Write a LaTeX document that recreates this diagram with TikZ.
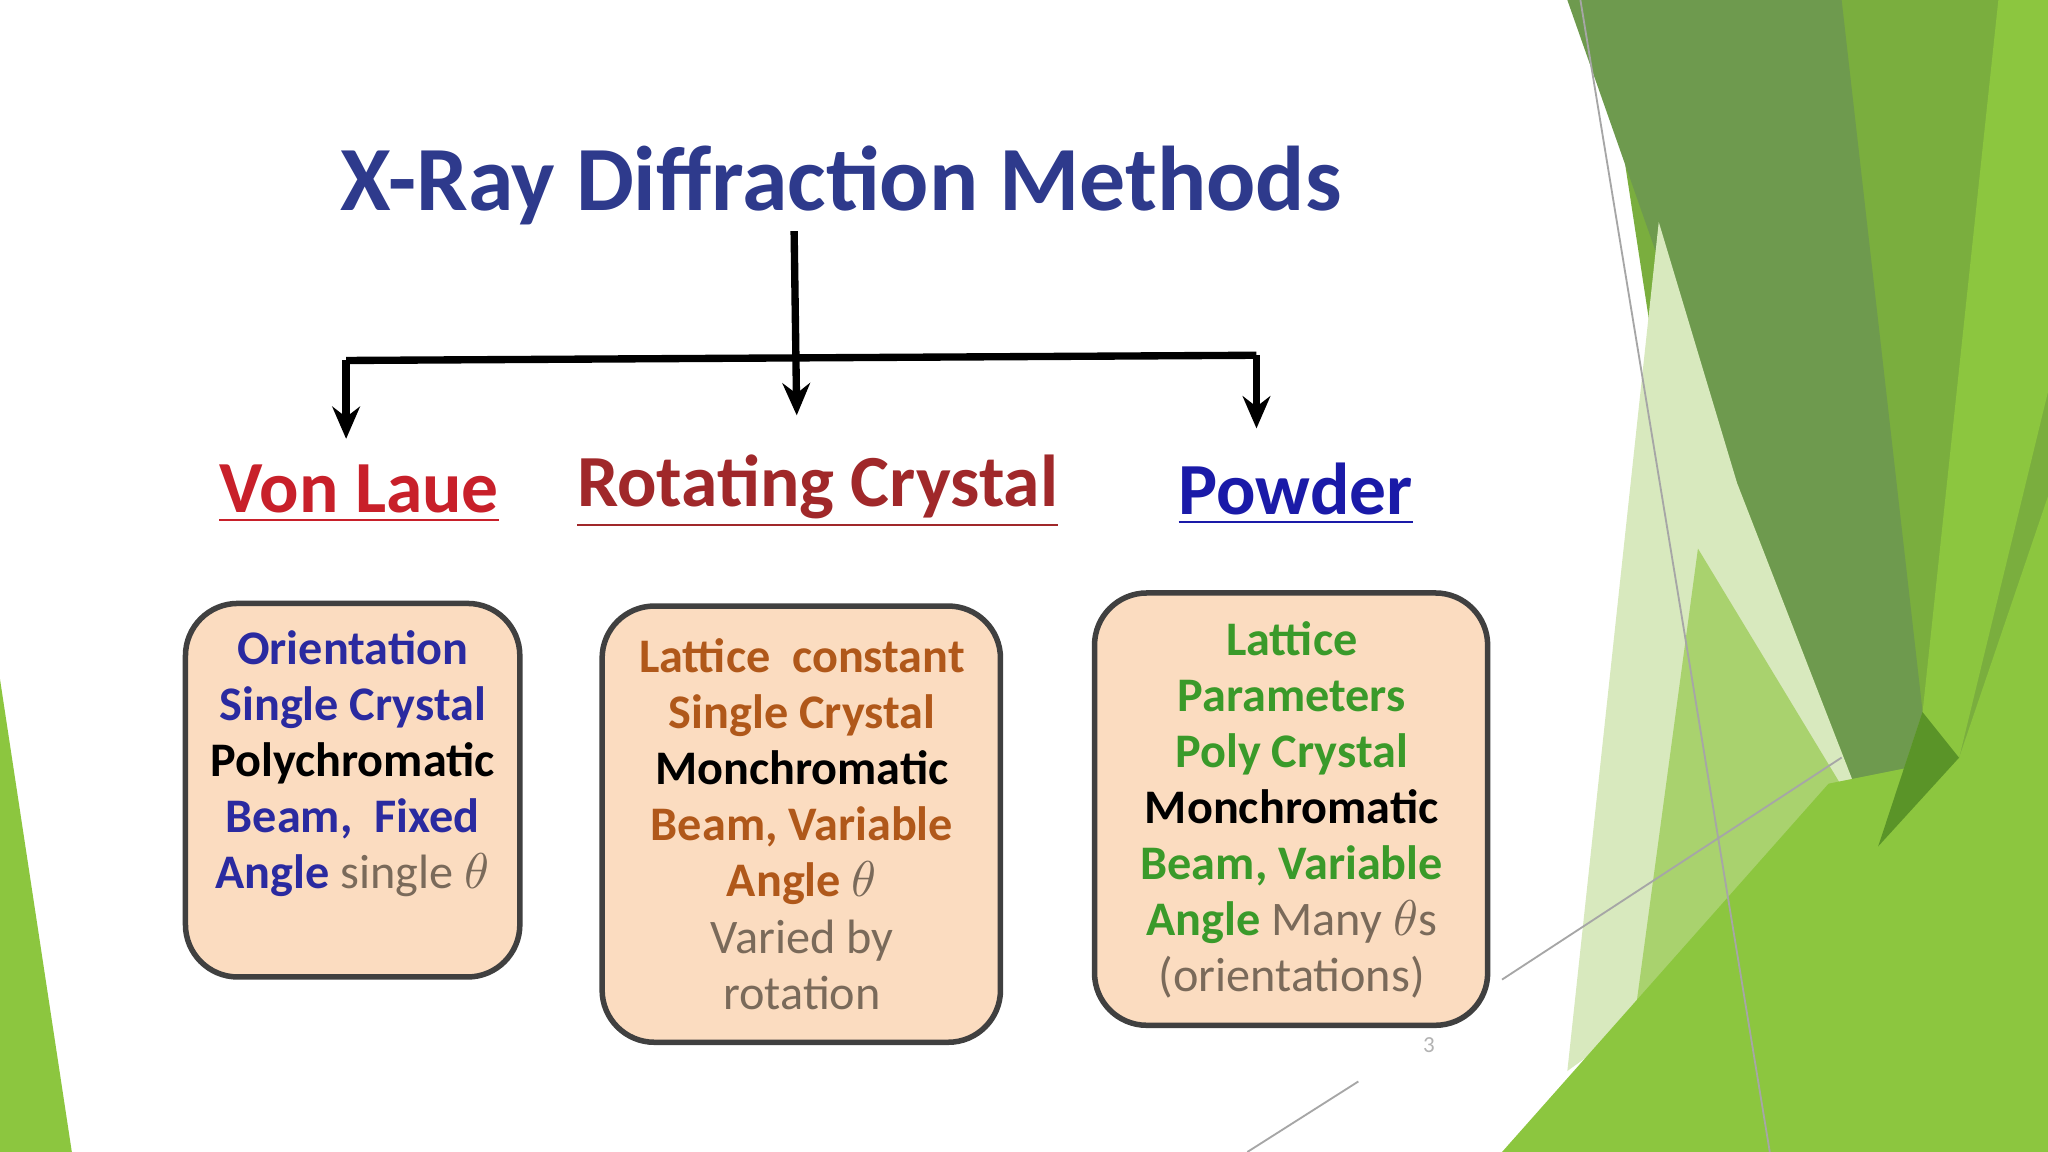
\documentclass[tikz,border=0pt]{standalone}
\usepackage{fontspec}
\setmainfont{Carlito}
\usetikzlibrary{arrows.meta}
\definecolor{navy}{HTML}{2E3A8C}
\definecolor{vred}{HTML}{C8202A}
\definecolor{rred}{HTML}{A0282A}
\definecolor{pblue}{HTML}{1A1AA8}
\definecolor{tblue}{HTML}{2A2AA0}
\definecolor{tbrown}{HTML}{B0581A}
\definecolor{tgray}{HTML}{7A6A5A}
\definecolor{tgreen}{HTML}{3A9A2A}
\definecolor{peach}{HTML}{FBDCC0}
\definecolor{gA}{HTML}{7AAE3E}
\definecolor{gB}{HTML}{6E9A4E}
\definecolor{gC}{HTML}{8CC63F}
\definecolor{gD}{HTML}{D8E9BE}
\definecolor{gE}{HTML}{A9D26E}
\definecolor{gF}{HTML}{5A9428}
\begin{document}
\begin{tikzpicture}[x=0.01cm,y=-0.01cm,
  box/.style={draw=black!75,line width=1.2pt,fill=peach,rounded corners=0.4cm},
  boxtext/.style={align=center,font=\fontsize{10.5}{12.2}\selectfont\bfseries},
  head/.style={font=\fontsize{16}{18}\selectfont\bfseries},
  conn/.style={line width=1.6pt,-{Stealth[length=7pt,width=6pt]}}]
\useasboundingbox (0,0) rectangle (1568,882);
\fill[white] (0,0) rectangle (1568,882);
% green decoration
\fill[gA] (1225,0) -- (1568,0) -- (1568,882) -- (1360,882) -- cycle;
\fill[gB] (1200,0) -- (1410,0) -- (1472,545) -- (1438,648) -- (1330,370) -- cycle;
\fill[gD] (1270,170) -- (1330,370) -- (1438,648) -- (1200,820) -- cycle;
\fill[gE] (1300,420) -- (1438,648) -- (1250,790) -- cycle;
\fill[gC] (1150,882) -- (1400,600) -- (1500,580) -- (1568,380) -- (1568,882) -- cycle;
\fill[gF] (1438,648) -- (1472,545) -- (1500,580) -- cycle;
\fill[gC] (1530,0) -- (1568,0) -- (1568,300) -- (1500,580) -- (1472,545) -- cycle;
\fill[gC] (0,520) -- (55,882) -- (0,882) -- cycle;
\draw[black!35,line width=0.4pt] (1210,0) -- (1355,882);
\draw[black!35,line width=0.4pt] (1150,750) -- (1410,580);
\draw[black!35,line width=0.4pt] (955,882) -- (1040,828);
% title
\node[text=navy,font=\fontsize{20}{24}\selectfont\bfseries] (title) at (644,142) {X-Ray Diffraction Methods};
\coordinate (top) at (608,177);
\coordinate (jl) at (265,276);
\coordinate (jr) at (962,272);
\coordinate (al) at (265,336);
\coordinate (am) at (610,318);
\coordinate (ar) at (962,328);
\draw[line width=1.6pt] (jl) -- (jr);
\draw[conn] (top) -- (am);
\draw[conn] (jl) -- (al);
\draw[conn] (jr) -- (ar);
% headings
\node[head,text=vred] (vl) at (275,378) {\underline{Von Laue}};
\node[head,text=rred] (rc) at (626,376) {\underline{Rotating Crystal}};
\node[head,text=pblue] (pw) at (992,378) {\underline{Powder}};
% boxes
\draw[box] (142,462) rectangle (398,748);
\draw[box] (461,464) rectangle (766,798);
\draw[box] (838,454) rectangle (1139,785);
\node[boxtext] (b1) at (270,585) {\textcolor{tblue}{Orientation}\\ \textcolor{tblue}{Single Crystal}\\ Polychromatic\\ \textcolor{tblue}{Beam,\ \ Fixed}\\ \textcolor{tblue}{Angle} \textcolor{tgray}{\mdseries single $\theta$}};
\node[boxtext] (b2) at (614,631) {\textcolor{tbrown}{Lattice\ \ constant}\\ \textcolor{tbrown}{Single Crystal}\\ Monchromatic\\ \textcolor{tbrown}{Beam, Variable}\\ \textcolor{tbrown}{Angle} \textcolor{tgray}{\mdseries$\theta$}\\ \textcolor{tgray}{\mdseries Varied by}\\ \textcolor{tgray}{\mdseries rotation}};
\node[boxtext] (b3) at (989,620) {\textcolor{tgreen}{Lattice}\\ \textcolor{tgreen}{Parameters}\\ \textcolor{tgreen}{Poly Crystal}\\ Monchromatic\\ \textcolor{tgreen}{Beam, Variable}\\ \textcolor{tgreen}{Angle} \textcolor{tgray}{\mdseries Many $\theta$s}\\ \textcolor{tgray}{\mdseries(orientations)}};
\node[text=black!30,font=\fontsize{5}{6}\selectfont] (pg) at (1094,800) {3};
\end{tikzpicture}
\end{document}
